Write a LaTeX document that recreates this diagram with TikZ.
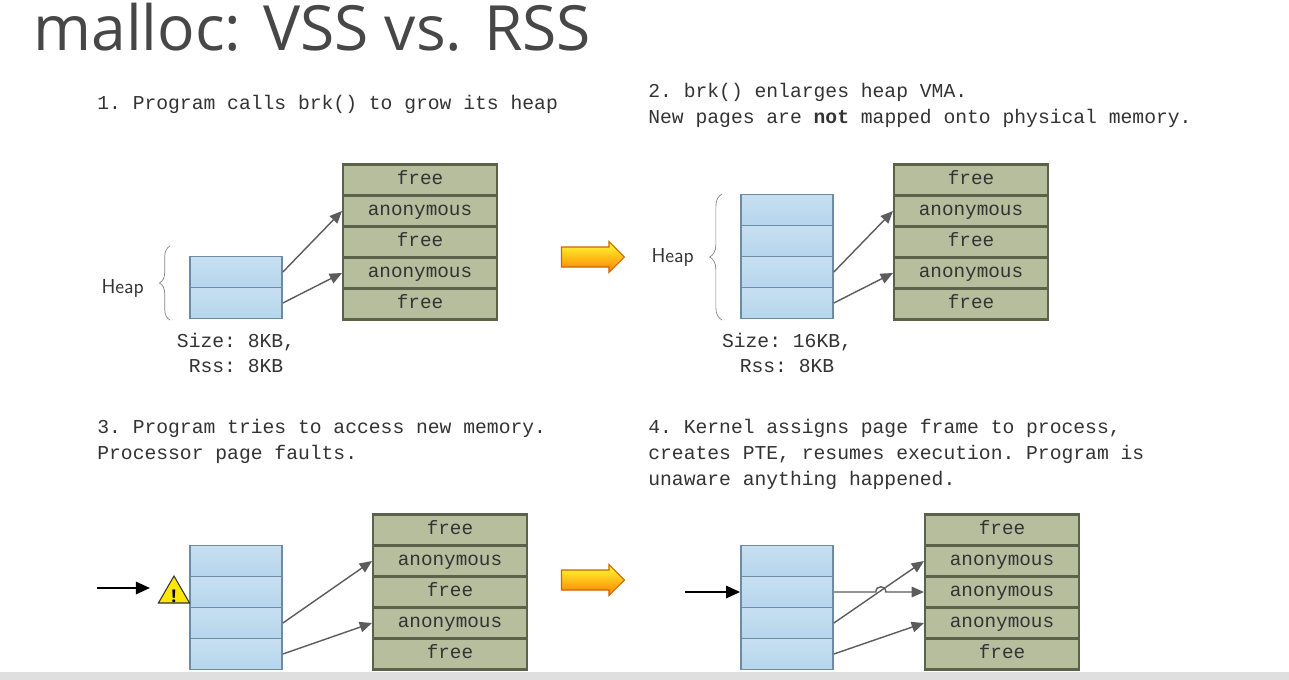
\documentclass[tikz,border=0pt]{standalone}
\usepackage{fontspec}
\setmainfont{Open Sans}
\setmonofont{Liberation Mono}
\usetikzlibrary{arrows.meta,decorations.pathreplacing,shapes.arrows,shapes.geometric}
\definecolor{pagegreen}{HTML}{B7BE9E}
\definecolor{pageedge}{HTML}{5C6249}
\definecolor{vmablue}{HTML}{B5D6EC}
\definecolor{vmaedge}{HTML}{6D8CA3}
\definecolor{inkgray}{HTML}{333333}
\tikzset{
  frame/.style={draw=pageedge,line width=1.2pt,fill=pagegreen,minimum width=3.08cm,minimum height=0.62cm,inner sep=0pt,text height=7pt,text depth=1.5pt,font=\ttfamily\fontsize{11}{11}\selectfont,text=inkgray},
  vma/.style={draw=vmaedge,line width=1pt,top color=vmablue!75!white,bottom color=vmablue,minimum width=1.84cm,minimum height=0.62cm,inner sep=0pt},
  map/.style={draw=inkgray!80,line width=0.8pt,-{Triangle[length=7pt,width=6pt]}},
  stepnote/.style={anchor=north west,inner sep=0pt,font=\ttfamily\fontsize{11.2}{14.7}\selectfont,text=inkgray,align=left},
  note/.style={font=\ttfamily\fontsize{11.2}{14.5}\selectfont,text=inkgray,align=center},
  heaplbl/.style={font=\sffamily\fontsize{11.5}{11.5}\selectfont,text=inkgray},
  bigarrow/.style={draw=orange!80!black,line width=0.6pt,top color=yellow!80!white,bottom color=orange,
    single arrow},
}
\begin{document}
\begin{tikzpicture}[x=0.02cm,y=-0.02cm]
	\useasboundingbox[fill=white] (0,0) rectangle (1289,680);
	\fill[gray!25] (0,672) rectangle (1289,680);
	
	\node[anchor=base west,inner sep=0pt,font=\fontsize{35.5}{35.5}\selectfont,text=inkgray!90] (title) at (33,50) {malloc: VSS vs. RSS};
	
	% step texts
	\node[stepnote] (t1) at (97,95) {1. Program calls brk() to grow its heap};
	\node[stepnote] (t2) at (648,83) {2. brk() enlarges heap VMA.\\New pages are \textbf{not} mapped onto physical memory.};
	\node[stepnote] (t3) at (97,419) {3. Program tries to access new memory.\\Processor page faults.};
	\node[stepnote] (t4) at (648,419) {4. Kernel assigns page frame to process,\\creates PTE, resumes execution. Program is\\unaware anything happened.};
	
	% physical page frames
	\foreach \p/\x/\y/\mid in {a/420/180/free,b/971/180/free,c/450/530/free,d/1002/530/anonymous}{
		\foreach \i/\lbl in {1/free,2/anonymous,3/\mid,4/anonymous,5/free}
			\node[frame] (\p\i) at (\x,\y+31*\i-31) {\lbl};
	}
	
	% heap VMAs
	\node[vma] (va1) at (236,272) {};
	\node[vma] (va2) at (236,303) {};
	\foreach \i in {1,...,4}{
		\node[vma] (vb\i) at (787,179+31*\i) {};
		\node[vma] (vc\i) at (236,530+31*\i) {};
		\node[vma] (vd\i) at (787,530+31*\i) {};
	}
	
	% page table mappings
	\draw[map] (va1.east) -- (a2.west);
	\draw[map] (va2.east) -- (a4.west);
	\draw[map] (vb3.east) -- (b2.west);
	\draw[map] (vb4.east) -- (b4.west);
	\draw[map] (vc3.east) -- (c2.west);
	\draw[map] (vc4.east) -- (c4.west);
	\draw[map] (vd3.east) -- (d2.west);
	\draw[map] (vd4.east) -- (d4.west);
	\draw[map] (vd2.east) -- ++(42,0) .. controls +(0,-7) and +(0,-7) .. ++(10,0) -- (d3.west);
	
	% heap braces
	\draw[inkgray!60,decorate,decoration={brace,amplitude=6pt}] (170,320) -- (170,246);
	\node[heaplbl,anchor=east] (ha) at (150,288) {Heap};
	\draw[inkgray!60,decorate,decoration={brace,amplitude=7pt}] (722,320) -- (722,194);
	\node[heaplbl,anchor=east] (hb) at (700,257) {Heap};
	
	\node[note] (sa) at (236,353) {Size: 8KB,\\ Rss: 8KB};
	\node[note] (sb) at (787,353) {Size: 16KB,\\ Rss: 8KB};
	
	% progress arrows
	\node[bigarrow,minimum width=0.62cm,minimum height=1.26cm,single arrow head extend=2pt] (go1) at (588,257) {};
	\node[bigarrow,minimum width=0.62cm,minimum height=1.26cm,single arrow head extend=2pt] (go2) at (588,580) {};
	
	% access
	\coordinate (ina) at (97,588);
	\coordinate (inb) at (150,588);
	\draw[line width=1.2pt,-{Triangle[length=8pt,width=7pt]}] (ina) -- (inb);
	\node[draw=black!80,fill=yellow!90!orange,regular polygon,regular polygon sides=3,inner sep=0pt,minimum size=0.72cm,line width=0.6pt] (warn) at (174,594) {};
	\node[font=\bfseries] (bang) at (174,596) {!};
	\coordinate (inc) at (685,592);
	\draw[line width=1.2pt,-{Triangle[length=8pt,width=7pt]}] (inc) -- (vd2.west);
\end{tikzpicture}
\end{document}
